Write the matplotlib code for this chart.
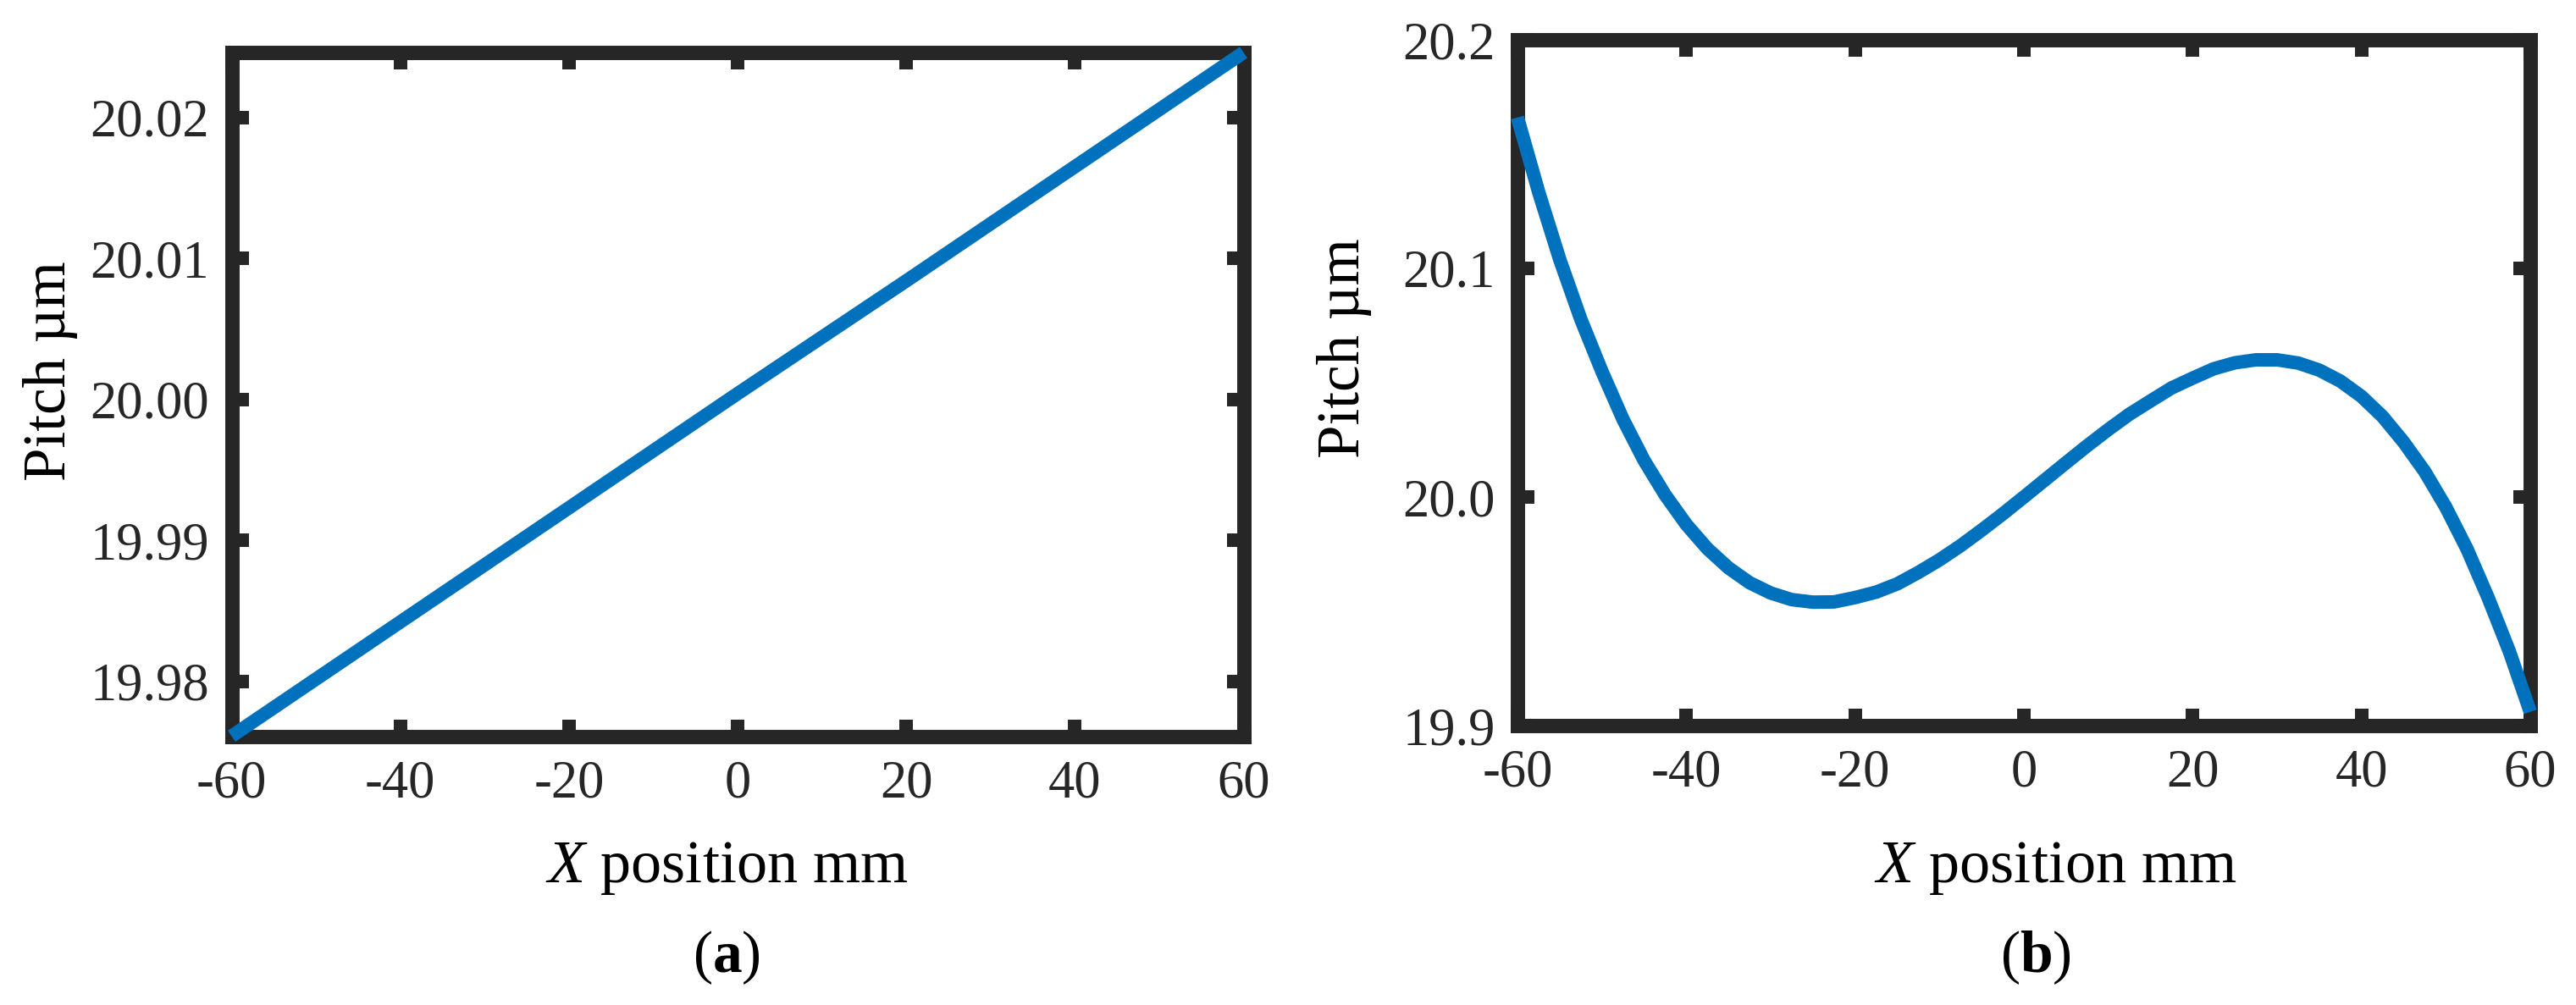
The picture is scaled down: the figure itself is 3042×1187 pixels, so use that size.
import numpy as np
import matplotlib
matplotlib.use("Agg")
import matplotlib.pyplot as plt

plt.rcParams["font.family"] = ["Liberation Serif", "DejaVu Serif"]
plt.rcParams["mathtext.fontset"] = "custom"
plt.rcParams["mathtext.rm"] = "Liberation Serif"
plt.rcParams["mathtext.it"] = "Liberation Serif:italic"
plt.rcParams["mathtext.bf"] = "Liberation Serif:bold"

DARK = "#262626"
BLUE = "#0072BD"

# panel (a): linear pitch change
x_a = [-60, -40, -20, 0, 20, 40, 60]
pitch_a = [19.9761, 19.9842, 19.9923, 20.0004, 20.0084, 20.0165, 20.0246]
yticks_a = [19.98, 19.99, 20.00, 20.01, 20.02]
yticklabels_a = ["19.98", "19.99", "20.00", "20.01", "20.02"]

# panel (b): cubic-like pitch change, read every 2.5 mm
x_b = [-60, -57.5, -55, -52.5, -50, -47.5, -45, -42.5, -40, -37.5, -35,
       -32.5, -30, -27.5, -25, -22.5, -20, -17.5, -15, -12.5, -10, -7.5,
       -5, -2.5, 0, 2.5, 5, 7.5, 10, 12.5, 15, 17.5, 20, 22.5, 25, 27.5,
       30, 32.5, 35, 37.5, 40, 42.5, 45, 47.5, 50, 52.5, 55, 57.5, 60]
pitch_b = [20.166, 20.1335, 20.104, 20.0778, 20.055, 20.034, 20.016,
           20.0009, 19.988, 19.9774, 19.969, 19.9625, 19.958, 19.9551,
           19.954, 19.9541, 19.956, 19.9584, 19.962, 19.967, 19.9725,
           19.9787, 19.9855, 19.9926, 20.000, 20.0075, 20.015, 20.0224,
           20.0295, 20.0362, 20.042, 20.0477, 20.052, 20.0561, 20.0587,
           20.060, 20.060, 20.0586, 20.0555, 20.0507, 20.044, 20.0352,
           20.024, 20.0111, 19.9955, 19.9773, 19.956, 19.9327, 19.906]
yticks_b = [19.9, 20.0, 20.1, 20.2]
yticklabels_b = ["19.9", "20.0", "20.1", "20.2"]

xticks = [-60, -40, -20, 0, 20, 40, 60]
xticklabels = ["-60", "-40", "-20", "0", "20", "40", "60"]

W, H = 3042, 1187
fig = plt.figure(figsize=(W / 100, H / 100), dpi=100)


def px_axes(left, right, top, bottom):
    return fig.add_axes([left / W, 1 - bottom / H, (right - left) / W, (bottom - top) / H])


def style(ax, x, y, yticks, yticklabels, ylim):
    ax.plot(x, y, color=BLUE, lw=11.5, solid_capstyle="butt",
            solid_joinstyle="round", clip_on=False, zorder=5)
    ax.set_xlim(-60, 60)
    ax.set_ylim(*ylim)
    ax.set_xticks(xticks)
    ax.set_xticklabels(xticklabels)
    ax.set_yticks(yticks)
    ax.set_yticklabels(yticklabels)
    for s in ax.spines.values():
        s.set_linewidth(12.2)
        s.set_color(DARK)
    ax.tick_params(which="both", direction="in", top=True, right=True,
                   length=14.5, width=11.5, color=DARK, labelcolor=DARK,
                   labelsize=45)
    ax.tick_params(axis="x", pad=20)
    ax.tick_params(axis="y", pad=19)


ax_a = px_axes(273.5, 1468.5, 62, 869.5)
style(ax_a, x_a, pitch_a, yticks_a, yticklabels_a, (19.9761, 20.0246))

ax_b = px_axes(1792, 2988, 47, 857)
style(ax_b, x_b, pitch_b, yticks_b, yticklabels_b, (19.9, 20.2))

# axis labels and panel tags
fig.text(59 / W, 1 - 438 / H, "Pitch µm", rotation=90, ha="center", va="center",
         fontsize=51, color="black")
fig.text(1587 / W, 1 - 411 / H, "Pitch µm", rotation=90, ha="center", va="center",
         fontsize=51, color="black")
fig.text(858 / W, 1 - 1042 / H, r"$X$ position mm", ha="center", va="baseline",
         fontsize=52, color="black")
fig.text(2427 / W, 1 - 1042 / H, r"$X$ position mm", ha="center", va="baseline",
         fontsize=52, color="black")
fig.text(858 / W, 1 - 1131 / H, r"($\mathbf{a}$)", ha="center", va="center",
         fontsize=50, color="black")
fig.text(2404 / W, 1 - 1131 / H, r"($\mathbf{b}$)", ha="center", va="center",
         fontsize=50, color="black")

fig.savefig("out.png", dpi=100, facecolor="white")
